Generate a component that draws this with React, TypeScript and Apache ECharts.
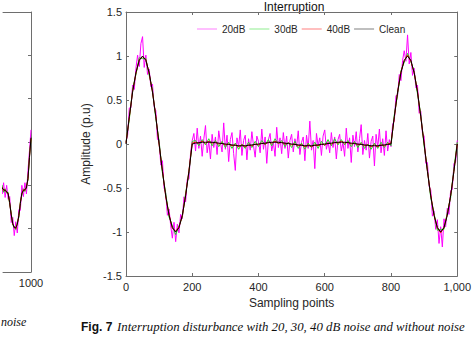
import React, { useEffect, useRef } from "react";
import * as echarts from "echarts";

// Main chart (Interruption)
const X_MIN = 0;
const X_MAX = 1000;
const X_INTERVAL = 200;
const Y_MIN = -1.5;
const Y_MAX = 1.5;
const Y_INTERVAL = 0.5;
const SERIES_NAMES = ["20dB", "30dB", "40dB", "Clean"];
const STEP_20DB = 5;
const STEP_OTHERS = 10;

const NOISY_20DB = [
  0.03, 0.10, 0.41, 0.41, 0.67, 0.62, 0.86, 1.01, 0.88, 1.14, 1.22, 0.87, 1.01, 0.79, 0.85, 0.65, 0.68, 0.42, 0.38, 0.05,
  0.05, -0.24, -0.19, -0.50, -0.56, -0.81, -0.74, -0.93, -1.07, -0.89, -1.11, -0.91, -1.01, -0.80, -0.85, -0.60, -0.66, -0.40, -0.40, -0.10,
  0.04,
  0.12, -0.08, 0.18, -0.05, 0.09, -0.14, 0.06, 0.21, -0.10, 0.03,
  -0.17, 0.11, -0.04, 0.08, -0.12, 0.15, 0.02, -0.09, 0.24, -0.06,
  0.10, -0.20, 0.05, 0.13, -0.11, -0.30, 0.07, -0.03, 0.16, -0.13,
  0.04, 0.10, -0.18, 0.06, -0.07, 0.14, -0.02, -0.15, 0.09, 0.03,
  -0.10, 0.17, -0.06, 0.08, -0.22, 0.05, 0.12, -0.08, 0.02, -0.14,
  0.19, -0.04, 0.07, -0.11, 0.13, -0.05, 0.09, -0.16, 0.04, 0.11,
  -0.09, 0.06, -0.03, 0.15, -0.12, 0.02, 0.08, -0.19, 0.10, -0.05,
  0.26, -0.07, 0.04, -0.28, 0.12, -0.02, 0.07, -0.13, 0.09, 0.16,
  -0.06, 0.03, -0.10, 0.13, -0.04, 0.08, -0.17, 0.05, 0.11, -0.08,
  0.02, -0.14, 0.18, -0.05, 0.07, -0.21, 0.10, -0.03, 0.14, -0.09,
  0.06, 0.22, -0.12, 0.04, -0.07, 0.12, -0.16, 0.03, 0.09, -0.25,
  0.11, -0.04, 0.17, -0.10, 0.06, -0.13, 0.15, -0.08, 0.05,
  -0.03, 0.23, 0.26, 0.55, 0.55, 0.79, 0.72, 0.95, 1.06, 0.94,
  1.24, 0.91, 1.04, 0.78, 0.86, 0.64, 0.67, 0.35, 0.37, 0.12,
  0.09, -0.22, -0.21, -0.48, -0.52, -0.82, -0.76, -0.97, -0.86, -1.13,
  -0.94, -1.17, -0.85, -0.94, -0.73, -0.80, -0.53, -0.52, -0.22, -0.21,
  0.04,
];

const NOISY_30DB = [
  0.02, 0.28, 0.62, 0.79, 0.98, 0.97, 0.97, 0.78, 0.61, 0.29, 0.03, -0.33, -0.56, -0.83, -0.93, -1.03, -0.93, -0.83, -0.56, -0.33, 0.03,
  0.04, -0.02, 0.05, -0.01, 0.06, -0.02, 0.04, -0.03, 0.03, -0.04, 0.02, -0.05, 0.01, -0.06, 0.00, -0.05, 0.02, -0.04, 0.03, -0.03,
  0.04, -0.01, 0.05, -0.02, 0.06, 0.00, 0.04, -0.03, 0.02, -0.04, 0.03, -0.05, 0.01, -0.06, 0.01, -0.04, 0.02, -0.05, 0.03, -0.02,
  0.05, -0.02, 0.06, -0.01, 0.05, -0.01, 0.04, -0.03, 0.03, -0.04, 0.02, -0.05, 0.00, -0.06, 0.01, -0.05, 0.02, -0.04, 0.02,
  -0.02, 0.33, 0.57, 0.83, 0.93, 1.03, 0.94, 0.82, 0.57, 0.33, -0.02, -0.29, -0.61, -0.79, -0.98, -0.97, -0.97, -0.78, -0.61, -0.28, 0.02,
];

const NOISY_40DB = [
  0.01, 0.30, 0.60, 0.80, 0.96, 0.99, 0.96, 0.80, 0.59, 0.32, -0.01, -0.30, -0.60, -0.80, -0.96, -0.99, -0.94, -0.82, -0.58, -0.30, 0.01,
  0.02, 0.01, 0.03, 0.01, 0.03, 0.01, 0.02, 0.00, 0.01, -0.01, 0.00, -0.02, -0.01, -0.03, -0.01, -0.03, -0.01, -0.02, 0.00, -0.01,
  0.01, 0.00, 0.02, 0.01, 0.03, 0.01, 0.02, 0.00, 0.01, -0.01, 0.00, -0.02, -0.01, -0.03, -0.01, -0.03, -0.01, -0.02, 0.00, -0.01,
  0.01, 0.00, 0.02, 0.01, 0.03, 0.01, 0.02, 0.00, 0.01, -0.01, 0.00, -0.02, -0.01, -0.03, -0.01, -0.03, -0.01, -0.02, 0.00,
  0.01, 0.30, 0.59, 0.82, 0.95, 1.01, 0.94, 0.81, 0.60, 0.30, 0.01, -0.31, -0.58, -0.81, -0.95, -1.01, -0.95, -0.80, -0.59, -0.31, 0.00,
];

const CLEAN = [
  0, 0.31, 0.59, 0.81, 0.95, 1, 0.95, 0.81, 0.59, 0.31, 0, -0.31, -0.59, -0.81, -0.95, -1, -0.95, -0.81, -0.59, -0.31, 0,
  0.01, 0.015, 0.02, 0.02, 0.02, 0.02, 0.015, 0.01, 0.005, 0, -0.005, -0.01, -0.015, -0.02, -0.02, -0.02, -0.015, -0.01, -0.005, 0,
  0.005, 0.01, 0.015, 0.02, 0.02, 0.02, 0.015, 0.01, 0.005, 0, -0.005, -0.01, -0.015, -0.02, -0.02, -0.02, -0.015, -0.01, -0.005, 0,
  0.005, 0.01, 0.015, 0.02, 0.02, 0.02, 0.015, 0.01, 0.005, 0, -0.005, -0.01, -0.015, -0.02, -0.02, -0.02, -0.015, -0.01, -0.005,
  0, 0.31, 0.59, 0.81, 0.95, 1, 0.95, 0.81, 0.59, 0.31, 0, -0.31, -0.59, -0.81, -0.95, -1, -0.95, -0.81, -0.59, -0.31, 0,
];

// Partially visible neighbouring chart on the left (its last samples)
const LEFT_X_START = 900;
const LEFT_STEP = 5;
const LEFT_VIEW_MIN = 908;
const LEFT_VIEW_MAX = 1000;
const LEFT_20DB = [-0.44, -0.60, -0.47, -0.64, -0.50, -0.66, -0.63, -0.93, -0.87, -1.08, -0.92, -1.05, -0.78, -0.79, -0.50, -0.63, -0.47, -0.60, -0.33, -0.10, 0.14];
const LEFT_30DB = [-0.53, -0.50, -0.58, -0.54, -0.59, -0.58, -0.72, -0.82, -0.96, -0.97, -1.01, -0.93, -0.87, -0.69, -0.61, -0.54, -0.57, -0.51, -0.44, -0.16, 0.03];
const LEFT_40DB = [-0.51, -0.52, -0.56, -0.55, -0.58, -0.59, -0.71, -0.83, -0.95, -0.98, -1.00, -0.94, -0.86, -0.70, -0.60, -0.55, -0.56, -0.52, -0.43, -0.17, 0.04];
const LEFT_CLEAN = [-0.50, -0.53, -0.55, -0.56, -0.57, -0.60, -0.70, -0.84, -0.94, -0.99, -0.99, -0.95, -0.85, -0.71, -0.59, -0.56, -0.55, -0.53, -0.42, -0.18, 0.05];

const TITLE = "Interruption";
const X_NAME = "Sampling points";
const Y_NAME = "Amplitude (p.u)";
const CAPTION_BOLD = "Fig. 7";
const CAPTION_TEXT = "Interruption disturbance with 20, 30, 40 dB noise and without noise";
const LEFT_CAPTION = "noise";

const COLORS = ["#ff00ff", "#22dd22", "#ff0000", "#000000"];
const AXIS_COLOR = "#6e6e6e";
const TEXT_COLOR = "#262626";
const SANS = "'Liberation Sans', Arial, sans-serif";
const SERIF = "'Liberation Serif', 'Times New Roman', serif";

const toPairs = (arr: number[], start: number, step: number) => arr.map((v, i) => [start + i * step, v]);

export default function App() {
  const ref = useRef<HTMLDivElement>(null);
  useEffect(() => {
    document.body.style.margin = "0";
    if (!ref.current) return;
    const chart = echarts.init(ref.current, null, { renderer: "svg" });

    const boxAxisLine = { show: true, onZero: false, lineStyle: { color: AXIS_COLOR, width: 1 } };
    const insideTick = { show: true, inside: true, length: 3, lineStyle: { color: AXIS_COLOR, width: 1 } };

    const mainData = [
      toPairs(NOISY_20DB, X_MIN, STEP_20DB),
      toPairs(NOISY_30DB, X_MIN, STEP_OTHERS),
      toPairs(NOISY_40DB, X_MIN, STEP_OTHERS),
      toPairs(CLEAN, X_MIN, STEP_OTHERS),
    ];
    const leftData = [LEFT_20DB, LEFT_30DB, LEFT_40DB, LEFT_CLEAN].map((a) => toPairs(a, LEFT_X_START, LEFT_STEP));

    const mkSeries = (data: number[][], idx: number, axis: number) => ({
      type: "line",
      name: SERIES_NAMES[idx],
      data,
      xAxisIndex: axis,
      yAxisIndex: axis,
      showSymbol: false,
      showAllSymbol: false,
      symbol: "none",
      symbolSize: 0,
      silent: true,
      emphasis: { disabled: true },
      lineStyle: { color: COLORS[idx], width: 1 },
      itemStyle: { color: COLORS[idx] },
    });

    chart.setOption({
      animation: false,
      backgroundColor: "#ffffff",
      grid: [
        { left: 126, right: 11, top: 12, bottom: 80 },
        { left: 0, width: 31, top: 12, bottom: 84 },
      ],
      legend: {
        data: SERIES_NAMES,
        left: 192,
        top: 19,
        icon: "rect",
        itemWidth: 20,
        itemHeight: 1,
        itemGap: 4,
        selectedMode: false,
        itemStyle: { opacity: 0.5 },
        textStyle: { fontSize: 10, color: TEXT_COLOR, fontFamily: SANS },
      },
      xAxis: [
        {
          gridIndex: 0, type: "value", min: X_MIN, max: X_MAX, interval: X_INTERVAL, position: "bottom",
          axisLine: boxAxisLine, axisTick: insideTick, splitLine: { show: false },
          axisLabel: { color: TEXT_COLOR, fontSize: 11, margin: 5, fontFamily: SANS },
          name: X_NAME, nameLocation: "middle", nameGap: 21,
          nameTextStyle: { color: TEXT_COLOR, fontSize: 12, fontFamily: SANS },
        },
        {
          gridIndex: 0, type: "value", min: X_MIN, max: X_MAX, interval: X_INTERVAL, position: "top",
          axisLine: boxAxisLine, axisTick: insideTick, splitLine: { show: false }, axisLabel: { show: false },
        },
        {
          gridIndex: 1, type: "value", min: LEFT_VIEW_MIN, max: LEFT_VIEW_MAX, interval: LEFT_VIEW_MAX - LEFT_VIEW_MIN, position: "bottom",
          axisLine: boxAxisLine, axisTick: { show: false }, splitLine: { show: false },
          axisLabel: {
            color: TEXT_COLOR, fontSize: 11, margin: 5, fontFamily: SANS,
            formatter: (v: number) => (v === LEFT_VIEW_MAX ? String(v) : ""),
          },
        },
        {
          gridIndex: 1, type: "value", min: LEFT_VIEW_MIN, max: LEFT_VIEW_MAX, position: "top",
          axisLine: boxAxisLine, axisTick: { show: false }, splitLine: { show: false }, axisLabel: { show: false },
        },
      ],
      yAxis: [
        {
          gridIndex: 0, type: "value", min: Y_MIN, max: Y_MAX, interval: Y_INTERVAL, position: "left",
          axisLine: boxAxisLine, axisTick: insideTick, splitLine: { show: false },
          axisLabel: { color: TEXT_COLOR, fontSize: 11, margin: 4, fontFamily: SANS },
          name: Y_NAME, nameLocation: "middle", nameGap: 20, nameRotate: 90,
          nameTextStyle: { color: TEXT_COLOR, fontSize: 12, fontFamily: SANS },
        },
        {
          gridIndex: 0, type: "value", min: Y_MIN, max: Y_MAX, interval: Y_INTERVAL, position: "right",
          axisLine: boxAxisLine, axisTick: insideTick, splitLine: { show: false }, axisLabel: { show: false },
        },
        {
          gridIndex: 1, type: "value", min: Y_MIN, max: Y_MAX, interval: Y_INTERVAL, position: "left",
          axisLine: { show: false }, axisTick: { show: false }, splitLine: { show: false }, axisLabel: { show: false },
        },
        {
          gridIndex: 1, type: "value", min: Y_MIN, max: Y_MAX, interval: Y_INTERVAL, position: "right",
          axisLine: boxAxisLine, axisTick: insideTick, splitLine: { show: false }, axisLabel: { show: false },
        },
      ],
      series: [
        ...mainData.map((d, i) => mkSeries(d, i, 0)),
        ...leftData.map((d, i) => mkSeries(d, i, 2)),
      ],
      graphic: [
        {
          type: "text", x: 294, y: 6.5,
          style: { text: TITLE, fontSize: 12, fontFamily: SANS, fill: "#111", textAlign: "center", textVerticalAlign: "middle" },
        },
        {
          type: "text", x: 81, y: 327,
          style: { text: CAPTION_BOLD, fontSize: 12, fontWeight: "bold", fontFamily: SANS, fill: "#111", textAlign: "left", textVerticalAlign: "middle" },
        },
        {
          type: "text", x: 117, y: 327,
          style: { text: CAPTION_TEXT, fontSize: 12.8, fontStyle: "italic", fontFamily: SERIF, fill: "#111", textAlign: "left", textVerticalAlign: "middle" },
        },
        {
          type: "text", x: 1, y: 322,
          style: { text: LEFT_CAPTION, fontSize: 12, fontStyle: "italic", fontFamily: SERIF, fill: "#111", textAlign: "left", textVerticalAlign: "middle" },
        },
      ],
    });
    return () => chart.dispose();
  }, []);
  return <div ref={ref} style={{ width: 474, height: 356 }} />;
}
